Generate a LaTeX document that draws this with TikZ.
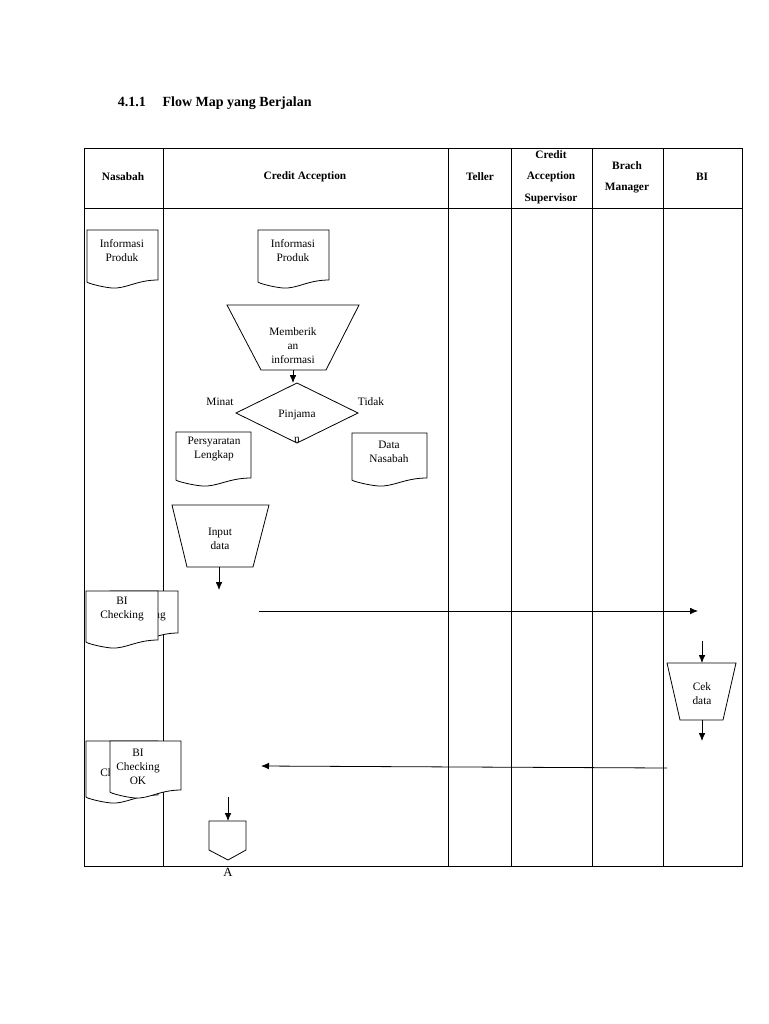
\documentclass[tikz,border=0pt]{standalone}
\usepackage{fontspec}
\setmainfont{Liberation Serif}
\usetikzlibrary{arrows.meta}
\begin{document}
\begin{tikzpicture}[x=0.75pt,y=-0.75pt,line width=0.6pt,
  t/.style={font=\fontsize{8.5}{10.5}\selectfont,align=center,inner sep=0pt},
  h/.style={font=\fontsize{8.5}{16}\selectfont\bfseries,align=center,inner sep=0pt},
  arr/.style={-{Latex[length=6pt,width=5pt]}}]
\useasboundingbox (0,0) rectangle (768,1024);
\newcommand\docshape[4]{%
  \draw[fill=white] (#1,#2) -- (#3,#2) -- (#3,#4) .. controls ({#3-0.3*(#3-#1)},#4) and ({#1+0.55*(#3-#1)},{#4+9}) .. ({#1+0.35*(#3-#1)},{#4+8}) .. controls ({#1+0.2*(#3-#1)},{#4+7}) and (#1,{#4+3}) .. (#1,{#4+2}) -- cycle;}
\node[font=\fontsize{10.5}{12}\selectfont\bfseries,anchor=west] (title) at (113,103) {4.1.1\hspace{1.2em}Flow Map yang Berjalan};
% table
\draw (84,148) rectangle (742,866);
\draw (84,208) -- (742,208);
\foreach \x in {163,448,511,592,663} \draw (\x,148) -- (\x,866);
\node[h] (h1) at (123,177) {Nasabah};
\node[h] (h2) at (305,177) {Credit Acception};
\node[h] (h3) at (480,177) {Teller};
\node[h] (h4) at (551,177) {Credit\\Acception\\Supervisor};
\node[h] (h5) at (627,177) {Brach\\Manager};
\node[h] (h6) at (702,177) {BI};
% docs
\docshape{87}{230}{158}{280}
\node[t] (ip1) at (122,251) {Informasi\\Produk};
\docshape{258}{230}{329}{280}
\node[t] (ip2) at (293,251) {Informasi\\Produk};
% trapezoid
\draw (227,305) -- (359,305) -- (326,370) -- (261,370) -- cycle;
\coordinate (m1) at (293,370);
\node[t] (mem) at (293,346) {Memberik\\an\\informasi};
\draw (236,413) -- (297,383) -- (358,413) -- (297,443) -- cycle;
\coordinate (d1) at (293,383);
\draw[arr] (m1) -- (d1);
\node[t] (pin) at (297,415) {Pinjama};
\node[t] (pinn) at (297,440) {n};
\node[t] (minat) at (220,402) {Minat};
\node[t] (tidak) at (371,402) {Tidak};
\docshape{176}{432}{251}{478}
\node[t] (pl) at (214,449) {Persyaratan\\Lengkap};
\docshape{352}{433}{427}{478}
\node[t] (dn) at (389,452) {Data\\Nasabah};
\draw (172,505) -- (269,505) -- (253,567) -- (187,567) -- cycle;
\node[t] (inp) at (220,539) {Input\\data};
\coordinate (i1) at (219,567); \coordinate (i2) at (219,590);
\draw[arr] (i1) -- (i2);
% BI checking
\docshape{110}{591}{178}{633}
\node[t] (bc2) at (144,609) {BI\\Checking};
\docshape{86}{591}{158}{640}
\node[t] (bc1) at (122,609) {BI\\Checking};
\coordinate (a1) at (259,611); \coordinate (a2) at (698,611);
\draw[arr] (a1) -- (a2);
\coordinate (b1) at (702,641); \coordinate (b2) at (702,663);
\draw[arr] (b1) -- (b2);
\draw (667,663) -- (736,663) -- (723,720) -- (680,720) -- cycle;
\node[t] (cek) at (702,694) {Cek\\data};
\coordinate (c1) at (702,720); \coordinate (c2) at (702,741);
\draw[arr] (c1) -- (c2);
\coordinate (e1) at (667,768); \coordinate (e2) at (261,766);
\draw[arr] (e1) -- (e2);
\docshape{86}{741}{158}{795}
\node[t] (ck) at (122,767) {BI\\Checking};
\docshape{110}{741}{181}{790}
\node[t] (ok) at (138,767) {BI\\Checking\\OK};
\coordinate (f1) at (228,797); \coordinate (f2) at (228,821);
\draw[arr] (f1) -- (f2);
\draw[fill=white] (209,821) -- (246,821) -- (246,850) -- (228,860) -- (209,850) -- cycle;
\node[t,font=\fontsize{9.5}{10}\selectfont] (A) at (228,872) {A};
\end{tikzpicture}
\end{document}
